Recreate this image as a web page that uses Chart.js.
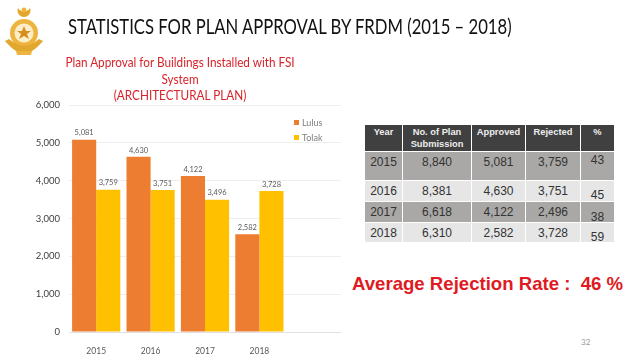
<!DOCTYPE html>
<html>
<head>
<meta charset="utf-8">
<title>Statistics for plan approval</title>
<script src="https://cdn.jsdelivr.net/npm/chart.js@4"></script>
<style>
  html, body { margin: 0; padding: 0; background: #fff; }
  #slide { position: relative; width: 638px; height: 359px; overflow: hidden; }
  #planChart { position: absolute; left: 0; top: 0; }
  #heading { position: absolute; left: 68px; top: 13px; font: 21.5px Lato, sans-serif; color: #111; white-space: nowrap; transform: scaleX(0.775); transform-origin: left top; }
  #chartTitle { position: absolute; left: 30px; top: 54px; width: 300px; text-align: center; font: 13.5px/16.5px Lato, sans-serif; color: #d8232a; transform: scaleX(0.87); }
  #legend { position: absolute; left: 294px; top: 115px; font: 9px Lato, sans-serif; color: #7f7f7f; }
  #legend div { height: 15px; line-height: 15px; white-space: nowrap; }
  #legend i { display: inline-block; width: 5px; height: 5px; margin-right: 3px; vertical-align: 1px; }
  #stats { position: absolute; left: 364px; top: 124px; border-collapse: separate; border-spacing: 1px; table-layout: fixed; width: 251px; font-family: "Liberation Sans", Arial, sans-serif; color: #333; }
  #stats th { background: #404040; color: #eee; font-size: 9.3px; line-height: 11.5px; height: 24px; padding: 2px 0 0; vertical-align: top; }
  #stats td { font-size: 12px; line-height: 14px; text-align: center; vertical-align: top; padding: 3px 0 0; box-sizing: border-box; }
  #stats td span { position: relative; }
  #stats tr.dark td { background: #aaa8a6; }
  #stats tr.light td { background: #e6e6e6; }
  #avg { position: absolute; left: 352px; top: 273px; font: bold 18.6px "Liberation Sans", Arial, sans-serif; color: #e01a22; white-space: nowrap; }
  #pageNo { position: absolute; left: 581px; top: 337px; font: 8px Lato, sans-serif; color: #999; }
  #crest { position: absolute; left: 4px; top: 6px; filter: blur(0.5px); }
</style>
</head>
<body>
<div id="slide">
  <canvas id="planChart" width="341" height="359"></canvas>
  <svg id="crest" width="40" height="50" viewBox="0 0 40 50">
    <path d="M14 2 a6.5 6.5 0 1 0 12 0 a7 7 0 0 1 -12 0z" fill="#e2a72e"/>
    <circle cx="20" cy="4" r="2.5" fill="#edb540"/>
    <circle cx="20" cy="27" r="14" fill="#edb540"/>
    <circle cx="20" cy="27" r="9.5" fill="#fbeec8"/>
    <path d="M20 20 l2 5 5 0 -4 3 2 5 -5 -3 -5 3 2 -5 -4 -3 5 0z" fill="#d68f1f"/>
    <path d="M1 35 Q7 42 12 45 L28 45 Q33 42 39 35 L35 33 Q20 46 5 33z" fill="#e2a72e"/>
    <path d="M13 49 L27 49 L28 45 L12 45z" fill="#edb540"/>
  </svg>
  <div id="heading">STATISTICS FOR PLAN APPROVAL BY FRDM (2015 – 2018)</div>
  <div id="chartTitle"></div>
  <div id="legend"></div>
  <table id="stats">
    <colgroup><col style="width:37px"><col style="width:68px"><col style="width:53px"><col style="width:54px"><col style="width:33px"></colgroup>
    <thead><tr id="statsHead"></tr></thead>
    <tbody id="statsBody"></tbody>
  </table>
  <div id="avg">Average Rejection Rate :&nbsp; 46 %</div>
  <div id="pageNo">32</div>
</div>
<script>
// chart data
const years = ["2015", "2016", "2017", "2018"];
const lulus = [5081, 4630, 4122, 2582];
const tolak = [3759, 3751, 3496, 3728];
const yTicks = [0, 1000, 2000, 3000, 4000, 5000, 6000];
const chartTitle = ["Plan Approval for Buildings Installed with FSI", "System", "(ARCHITECTURAL PLAN)"];

// table data
const tableHead = ["Year", "No. of Plan<br>Submission", "Approved", "Rejected", "%"];
const submissions = ["8,840", "8,381", "6,618", "6,310"];
const rejected = [3759, 3751, 2496, 3728];
const percent = [43, 45, 38, 59];

const orange = "#ED7D31";
const yellow = "#FFC000";

// same look as the excel data labels
const barLabels = {
    id: "barLabels",
    afterDatasetsDraw(chart) {
        const ctx = chart.ctx;
        ctx.save();
        ctx.font = "7.5px Lato, sans-serif";
        ctx.fillStyle = "#595959";
        ctx.textAlign = "center";
        ctx.textBaseline = "bottom";
        chart.data.datasets.forEach((ds, i) => {
            chart.getDatasetMeta(i).data.forEach((bar, j) => {
                if (ds.data[j] == null) return;
                ctx.fillText(ds.data[j].toLocaleString("en-US"), bar.x, bar.y - 3);
            });
        });
        ctx.restore();
    },
};

new Chart(document.getElementById("planChart"), {
    type: "bar",
    // blank fifth category leaves the room where the legend sits
    data: {
        labels: [...years, ""],
        datasets: [
            { label: "Lulus", data: lulus, backgroundColor: orange },
            { label: "Tolak", data: tolak, backgroundColor: yellow },
        ],
    },
    options: {
        responsive: false,
        animation: false,
        layout: { padding: { top: 105 } },
        datasets: { bar: { categoryPercentage: 0.886, barPercentage: 1 } },
        plugins: {
            legend: { display: false },
            tooltip: { enabled: false },
        },
        scales: {
            x: {
                afterFit(scale) { scale.height = 27; },
                grid: { display: false },
                border: { color: "#e0e0e0" },
                ticks: { color: "#595959", font: { family: "Lato, sans-serif", size: 8.5 }, padding: 6 },
            },
            y: {
                min: 0,
                max: 6000,
                afterFit(scale) { scale.width = 69; },
                afterBuildTicks(scale) { scale.ticks = yTicks.map((v) => ({ value: v })); },
                grid: { color: "#eeeeee", drawTicks: false },
                border: { display: false },
                ticks: {
                    color: "#404040",
                    font: { family: "Lato, sans-serif", size: 9.5 },
                    padding: 9,
                    callback: (v) => v.toLocaleString("en-US"),
                },
            },
        },
    },
    plugins: [barLabels],
});

document.getElementById("chartTitle").innerHTML = chartTitle.join("<br>");

// legend
document.getElementById("legend").innerHTML = [["Lulus", orange], ["Tolak", yellow]]
    .map(([name, col]) => `<div><i style="background:${col}"></i>${name}</div>`)
    .join("");

// table
document.getElementById("statsHead").innerHTML = tableHead.map((h) => `<th>${h}</th>`).join("");
const rowHeights = [28, 20, 20, 19];
const percentShift = [-2, 4, 4.5, 3.5];
document.getElementById("statsBody").innerHTML = years
    .map((y, i) => {
        const cells = [y, submissions[i], lulus[i].toLocaleString("en-US"), rejected[i].toLocaleString("en-US")];
        const tds = cells.map((c) => `<td>${c}</td>`).join("");
        return `<tr class="${i % 2 ? "light" : "dark"}" style="height:${rowHeights[i]}px">${tds}<td><span style="top:${percentShift[i]}px">${percent[i]}</span></td></tr>`;
    })
    .join("");
</script>
</body>
</html>
